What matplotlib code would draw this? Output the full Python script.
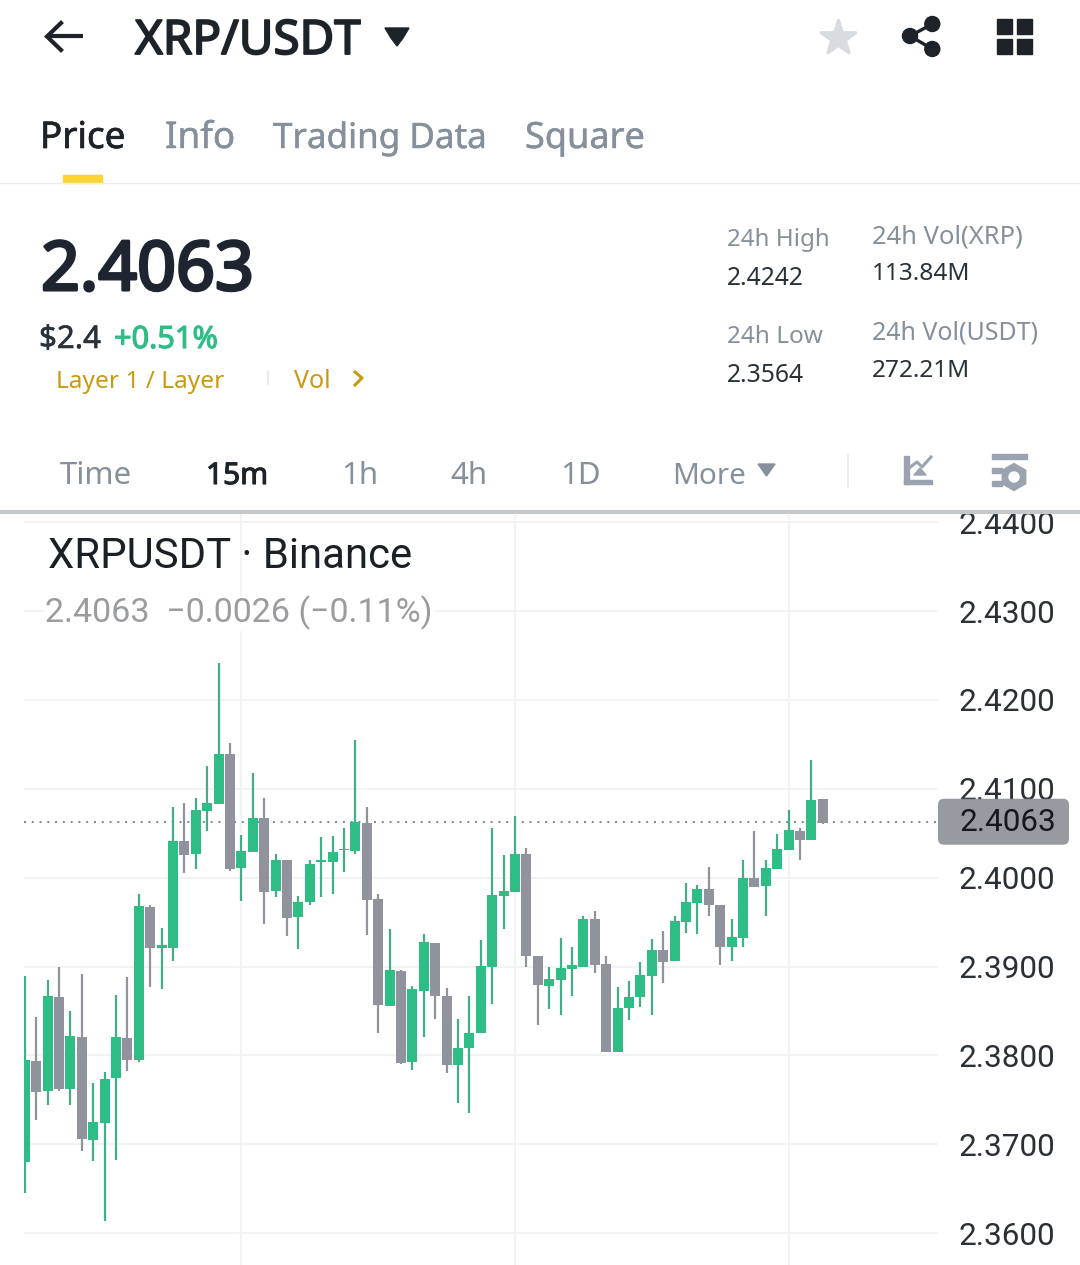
#!/usr/bin/env python

import matplotlib
matplotlib.use("Agg")
import matplotlib.pyplot as plt
import matplotlib.patheffects as pe
from matplotlib.patches import Circle, FancyBboxPatch, Polygon, Rectangle, RegularPolygon

# candle values, oldest first
opens = [2.3680, 2.3794, 2.3760, 2.3866, 2.3762, 2.3821, 2.3705, 2.3724, 2.3775, 2.3820,
         2.3795, 2.3967, 2.3921, 2.3921, 2.4041, 2.4027, 2.4075, 2.4083, 2.4139, 2.4011,
         2.4029, 2.4067, 2.3985, 2.4020, 2.3956, 2.3973, 2.4018, 2.4018, 2.4031, 2.4030,
         2.4062, 2.3976, 2.3856, 2.3895, 2.3793, 2.3873, 2.3927, 2.3867, 2.3789, 2.3808,
         2.3825, 2.3899, 2.3979, 2.3984, 2.4027, 2.3912, 2.3878, 2.3885, 2.3897, 2.3900,
         2.3954, 2.3903, 2.3804, 2.3853, 2.3866, 2.3889, 2.3919, 2.3906, 2.3950, 2.3972,
         2.3987, 2.3969, 2.3922, 2.3932, 2.4000, 2.3991, 2.4010, 2.4031, 2.4053, 2.4042,
         2.4089]
highs = [2.3889, 2.3843, 2.3885, 2.3900, 2.3850, 2.3892, 2.3769, 2.3781, 2.3868, 2.3888,
         2.3982, 2.3969, 2.3943, 2.4080, 2.4084, 2.4090, 2.4126, 2.4242, 2.4152, 2.4048,
         2.4118, 2.4090, 2.4027, 2.4020, 2.3979, 2.4020, 2.4046, 2.4047, 2.4056, 2.4155,
         2.4080, 2.3982, 2.3942, 2.3896, 2.3878, 2.3937, 2.3927, 2.3876, 2.3841, 2.3867,
         2.3930, 2.4056, 2.4026, 2.4069, 2.4033, 2.3912, 2.3900, 2.3932, 2.3922, 2.3957,
         2.3963, 2.3912, 2.3877, 2.3884, 2.3905, 2.3931, 2.3940, 2.3957, 2.3994, 2.3992,
         2.4012, 2.3969, 2.3954, 2.4020, 2.4053, 2.4020, 2.4049, 2.4076, 2.4056, 2.4132,
         2.4089]
lows = [2.3645, 2.3727, 2.3744, 2.3760, 2.3744, 2.3693, 2.3681, 2.3614, 2.3682, 2.3783,
        2.3793, 2.3877, 2.3875, 2.3906, 2.4005, 2.4010, 2.4053, 2.4083, 2.4008, 2.3974,
        2.4029, 2.3948, 2.3978, 2.3934, 2.3920, 2.3969, 2.3978, 2.3982, 2.4006, 2.4027,
        2.3935, 2.3825, 2.3856, 2.3790, 2.3784, 2.3821, 2.3841, 2.3780, 2.3746, 2.3735,
        2.3825, 2.3858, 2.3942, 2.3984, 2.3899, 2.3834, 2.3852, 2.3845, 2.3867, 2.3900,
        2.3893, 2.3804, 2.3804, 2.3840, 2.3855, 2.3846, 2.3881, 2.3906, 2.3938, 2.3937,
        2.3957, 2.3902, 2.3906, 2.3922, 2.3990, 2.3957, 2.4010, 2.4031, 2.4020, 2.4042,
        2.4060]
closes = [2.3795, 2.3759, 2.3867, 2.3762, 2.3822, 2.3706, 2.3725, 2.3774, 2.3821, 2.3795,
          2.3968, 2.3921, 2.3924, 2.4041, 2.4026, 2.4076, 2.4084, 2.4139, 2.4010, 2.4030,
          2.4067, 2.3984, 2.4020, 2.3955, 2.3973, 2.4016, 2.4020, 2.4029, 2.4032, 2.4063,
          2.3975, 2.3857, 2.3896, 2.3792, 2.3875, 2.3928, 2.3867, 2.3789, 2.3808, 2.3825,
          2.3901, 2.3981, 2.3985, 2.4027, 2.3912, 2.3879, 2.3886, 2.3898, 2.3902, 2.3954,
          2.3902, 2.3804, 2.3853, 2.3866, 2.3891, 2.3919, 2.3905, 2.3951, 2.3973, 2.3987,
          2.3969, 2.3922, 2.3933, 2.4000, 2.3990, 2.4011, 2.4032, 2.4054, 2.4042, 2.4087,
          2.4062]
price_ticks = [2.36, 2.37, 2.38, 2.39, 2.40, 2.41, 2.42, 2.43, 2.44]
time_ticks = [19, 43, 67]
last_price = 2.4063

W, H = 1080, 1265
UP = "#2EBD85"
DOWN = "#90929C"
DARK = "#1E2329"
GREY = "#868F9C"
GOLD = "#C99A10"

plt.rcParams["font.family"] = ["Roboto", "DejaVu Sans"]

fig = plt.figure(figsize=(W / 100, H / 100), dpi=100, facecolor="white")

# chart part, axes limits picked so the price grid lands on the same rows
ax = fig.add_axes([24 / W, 0, (938 - 24) / W, (H - 514) / H])
ax.set_xlim((24 - 24.8) / 11.4, (938 - 24.8) / 11.4)
ax.set_ylim(2.35643, 2.44092)
for s in ax.spines.values():
    s.set_visible(False)
ax.set_xticks(time_ticks)
ax.set_xticklabels([])
ax.set_yticks(price_ticks)
ax.set_yticklabels(["%.4f" % p for p in price_ticks])
ax.yaxis.tick_right()
ax.tick_params(axis="both", length=0)
ax.tick_params(axis="y", pad=15, labelsize=22.7, labelcolor="#2B2F36")
ax.grid(True, color="#F2F3F4", lw=1.5)
ax.set_axisbelow(True)

ax.axhline(last_price, color="#7F8289", lw=1.4, ls=(0, (1, 3)), zorder=1.5)

for i in range(len(opens)):
    up = closes[i] >= opens[i]
    ax.vlines(i, lows[i], highs[i], color="#43AD87" if up else DOWN, lw=1.6, zorder=2)
    ax.bar(i, abs(closes[i] - opens[i]), bottom=min(opens[i], closes[i]), width=0.87,
           color=UP if up else DOWN, zorder=3)

# everything around the chart is drawn in pixel coordinates
ui = fig.add_axes([0, 0, 1, 1])
ui.set_xlim(0, W)
ui.set_ylim(H, 0)
ui.axis("off")
ui.patch.set_alpha(0)


def label(x, y, s, size, color=DARK, bold=0, family="Noto Sans"):
    t = ui.text(x, y, s, fontsize=size, color=color, family=family, ha="left", va="baseline")
    if bold:
        # Noto Sans comes with one weight here, thicken the outline instead
        t.set_path_effects([pe.withStroke(linewidth=bold, foreground=color)])


# header
ui.plot([83, 47], [36, 36], color=DARK, lw=3, solid_capstyle="butt")
ui.plot([61, 47, 61], [23, 36.5, 50], color=DARK, lw=3, solid_joinstyle="miter")
label(135, 54, "XRP/USDT", 34.2, bold=1.3)
ui.add_patch(Polygon([[385, 28], [409, 28], [403, 38], [397, 46], [391, 38]], color=DARK))
ui.plot([838], [38], marker="*", ms=27, color="#D8DBE0", mec="#D8DBE0", mew=2)
ui.plot([932.3, 910, 932.3], [24, 36, 49], color=DARK, lw=2.4)
for cx, cy in [(910, 36), (932.3, 24), (932.3, 49)]:
    ui.add_patch(Circle((cx, cy), 7.5, color=DARK))
for gx in (996.7, 1016.7):
    for gy in (19, 38.7):
        ui.add_patch(Rectangle((gx, gy), 15.6, 15.4, color=DARK))

# tabs
label(40, 148, "Price", 26.5, bold=0.5)
label(165, 148, "Info", 26.5, color=GREY, bold=0.3)
label(273, 148, "Trading Data", 25.2, color=GREY, bold=0.3)
label(525, 148, "Square", 26, color=GREY, bold=0.3)
ui.add_patch(Rectangle((63, 175), 39, 8, color="#FCD535"))
ui.plot([0, W], [183, 183], color="#EAECEF", lw=1)

# price block
label(41, 290, "2.4063", 49, color="#1E2530", bold=2.2)
label(39, 348, "$2.4", 22.5, color="#2B3139", bold=0.4)
label(114, 348, "+0.51%", 22.1, color=UP, bold=0.8)
label(55.5, 388, "Layer 1 / Layer", 17.6, color=GOLD)
ui.plot([268, 268], [372, 384], color="#E4E6E9", lw=1.2)
label(294, 388, "Vol", 18, color=GOLD)
ui.plot([355, 362, 355], [372, 378, 385], color=GOLD, lw=2.2)

label(727, 246, "24h High", 17.4, color=GREY)
label(727, 285, "2.4242", 17.8, color="#2B3139")
label(727, 343, "24h Low", 17.5, color=GREY)
label(727, 382, "2.3564", 17.8, color="#2B3139")
label(871.5, 243, "24h Vol(XRP)", 18.4, color=GREY)
label(871.5, 280, "113.84M", 17.6, color="#2B3139")
label(871.5, 339, "24h Vol(USDT)", 18, color=GREY)
label(871.5, 377, "272.21M", 17.6, color="#2B3139")

# interval row
label(60, 484, "Time", 22.5, color=GREY)
label(206, 484, "15m", 21.5, bold=0.8)
label(341.5, 484, "1h", 22.5, color=GREY)
label(450.5, 484, "4h", 22.5, color=GREY)
label(560, 484, "1D", 22.5, color=GREY)
label(672, 484, "More", 21.4, color=GREY)
ui.add_patch(Polygon([[758, 464], [775, 464], [766.5, 476]], color=GREY))
ui.plot([848, 848], [455, 487], color="#EAECEF", lw=1.5)

ICON = "#9AA3AF"
ui.add_patch(Rectangle((904, 456), 4.5, 28, color=ICON))
ui.add_patch(Rectangle((904, 479.5), 28, 4.5, color=ICON))
ui.plot([909, 917, 922, 931], [468, 462, 467, 457], color=ICON, lw=2.2)
ui.add_patch(Polygon([[920, 468], [914, 475], [926, 475]], color=ICON))
ui.add_patch(Rectangle((992, 454), 35, 5, color=ICON))
ui.add_patch(Rectangle((992, 468), 10, 5, color=ICON))
ui.add_patch(Rectangle((992, 481), 10, 5, color=ICON))
ui.add_patch(RegularPolygon((1014, 477), 6, radius=13.5, color=ICON))
ui.add_patch(Circle((1014, 477), 5, color="white"))
ui.plot([0, W], [512, 512], color="#C5C8CA", lw=3, solid_capstyle="butt")

# chart titles
ui.add_patch(Rectangle((44, 596), 390, 34, color="white"))
label(48, 568, "XRPUSDT \u00b7 Binance", 30.2, color="#1B1F26", family="Roboto")
label(45, 622, "2.4063  \u22120.0026 (\u22120.11%)", 24.5, color="#9A9C9F", family="Roboto")

# last price tag follows the price scale
tag_y = H - ax.transData.transform((0, last_price))[1]
ui.add_patch(FancyBboxPatch((941, tag_y - 20), 125, 40, boxstyle="round,pad=3,rounding_size=6",
                            fc="#90939B", ec="none", alpha=0.93))
ui.text(959.5, tag_y + 1, "2.4063", fontsize=22.7, color="#15181D", va="center", ha="left")

fig.savefig("out.png", dpi=100)
